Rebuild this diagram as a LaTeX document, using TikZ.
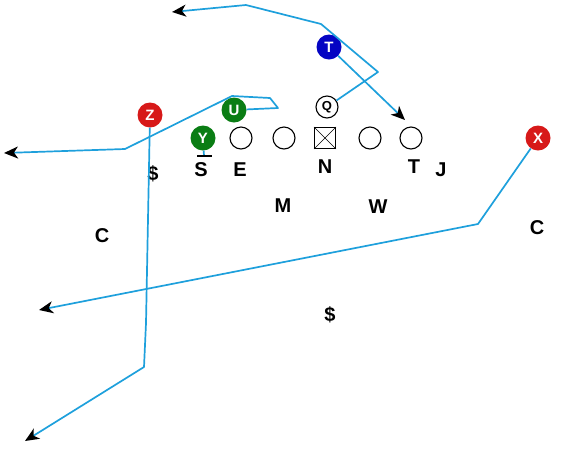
\documentclass[tikz,border=0pt]{standalone}
\usepackage{fontspec}
\setmainfont{Liberation Sans}
\usetikzlibrary{positioning, calc, arrows.meta}
\definecolor{routecol}{RGB}{30,160,220}
\definecolor{zred}{RGB}{215,25,25}
\definecolor{tblue}{RGB}{5,5,195}
\definecolor{ugreen}{RGB}{10,125,20}

\begin{document}
\begin{tikzpicture}[x=1pt, y=-1pt,
    route/.style={draw=routecol, line width=1.7pt, line join=round},
    routeend/.style={route, -{Stealth[black, length=14pt, width=12pt, inset=4pt]}},
    man/.style={draw, circle, fill=white, line width=1.1pt, minimum size=22pt, inner sep=0pt},
    skill/.style={circle, fill=#1, text=white, minimum size=25pt, inner sep=0pt, font=\bfseries\fontsize{15}{15}\selectfont},
    dlabel/.style={font=\bfseries\fontsize{20}{20}\selectfont}]
    % Frame of the picture
    \useasboundingbox (0,0) rectangle (586,467);

    % Offensive line
    \node[draw, rectangle, fill=white, line width=1.1pt, minimum size=21pt, inner sep=0pt] (C) at (325,138) {};
    \draw[line width=0.5pt] (C.north west) -- (C.south east);
    \draw[line width=0.5pt] (C.north east) -- (C.south west);
    \node[man] (LG) at (284,138) {};
    \node[man] (LT) at (241,138) {};
    \node[man] (RG) at (370,138) {};
    \node[man] (RT) at (411,138) {};
    \node[man, font=\bfseries\fontsize{13}{13}\selectfont] (Q) at (327,107) {Q};

    % Skill players
    \node[skill=tblue] (T) at (329,47) {T};
    \node[skill=ugreen] (U) at (234,110) {U};
    \node[skill=ugreen] (Y) at (203,138) {Y};
    \node[skill=zred] (Z) at (150,115) {Z};
    \node[skill=zred] (X) at (538,138) {X};

    % Defense
    \node[dlabel] (dS) at (201,170) {S};
    \node[dlabel] (dE) at (240,170) {E};
    \node[dlabel] (dN) at (325,167) {N};
    \node[dlabel] (dT) at (414,167) {T};
    \node[dlabel] (dJ) at (441,170) {J};
    \node[dlabel] (dS1) at (153,174) {\$};
    \node[dlabel] (dM) at (283,206) {M};
    \node[dlabel] (dW) at (378,207) {W};
    \node[dlabel] (dCl) at (102,236) {C};
    \node[dlabel] (dCr) at (537,228) {C};
    \node[dlabel] (dS2) at (330,315) {\$};

    % Route points
    \coordinate (q1) at (378,72);
    \coordinate (q2) at (321,24);
    \coordinate (q3) at (246,5);
    \coordinate (q4) at (172,12);
    \coordinate (t1) at (405,120);
    \coordinate (u1) at (278,108);
    \coordinate (u2) at (270,98);
    \coordinate (u3) at (232,96);
    \coordinate (u4) at (125,149);
    \coordinate (u5) at (4,153);
    \coordinate (z1) at (146,323);
    \coordinate (z2) at (144,367);
    \coordinate (z3) at (25,441);
    \coordinate (x1) at (478,224);
    \coordinate (x2) at (39,310);
    \coordinate (yb) at (204,156);

    % Routes
    \draw[routeend] (Q) -- (q1) -- (q2) -- (q3) -- (q4);
    \draw[routeend] (T) -- (t1);
    \draw[routeend] (U) -- (u1) -- (u2) -- (u3) -- (u4) -- (u5);
    \draw[routeend] (Z) -- (z1) -- (z2) -- (z3);
    \draw[routeend] (X) -- (x1) -- (x2);
    \draw[route] (Y) -- (yb);
    \draw[line width=1.4pt] ($(yb)+(-7,0)$) -- ($(yb)+(8,0)$);
\end{tikzpicture}
\end{document}
